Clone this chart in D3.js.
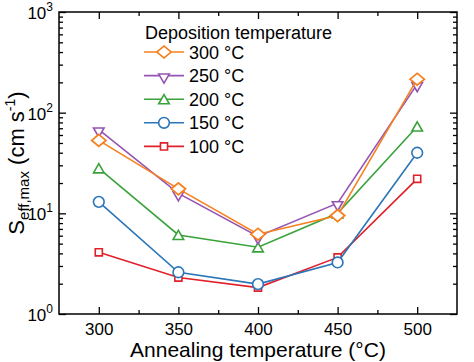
<!DOCTYPE html>
<html><head><meta charset="utf-8">
<script src="https://cdn.jsdelivr.net/npm/d3@7"></script>
<style>body{margin:0;background:#fff;} svg{display:block;font-family:Arial,"Liberation Sans",sans-serif;}</style>
</head><body>
<svg id="c" width="474" height="362"></svg>
<script>
const annealing = [300, 350, 400, 450, 500];
const seriesNames = ["300 °C", "250 °C", "200 °C", "150 °C", "100 °C"];
const colors = ["#f7801e", "#9553b3", "#3aa23a", "#2a76b8", "#e0202a"];
const symbolsKind = ["diamond", "triangleDown", "triangleUp", "circle", "square"];
const s300 = [53, 17.5, 6.2, 9.5, 215];
const s250 = [68, 15.8, 5.9, 12.6, 192];
const s200 = [28, 6.1, 4.6, 10, 73];
const s150 = [13, 2.6, 1.98, 3.25, 40];
const s100 = [4.1, 2.3, 1.83, 3.65, 22];
const seriesValues = [s300, s250, s200, s150, s100];
const xTicks = [300, 350, 400, 450, 500];
const yTicks = [1, 10, 100, 1000];

const svg = d3.select("#c");
const L = 59, R = 457, T = 12, B = 314;
const x = d3.scaleLinear().domain([275, 525]).range([L, R]);
const y = d3.scaleLog().domain([1, 1000]).range([B, T]);

const xMinor = d3.range(275, 526, 25).filter(v => !xTicks.includes(v) && v > 275 && v < 525);
const yMinor = [];
for (let d = 1; d < 1000; d *= 10) for (let k = 2; k <= 9; k++) yMinor.push(d * k);

const g = svg.append("g");
const axB = g.append("g").attr("transform", `translate(0,${B})`).call(d3.axisBottom(x).tickValues(xTicks).tickSize(-7).tickPadding(9).tickFormat(d3.format("d")));
const axT = g.append("g").attr("transform", `translate(0,${T})`).call(d3.axisTop(x).tickValues(xTicks).tickSize(-7).tickFormat(""));
const axBm = g.append("g").attr("transform", `translate(0,${B})`).call(d3.axisBottom(x).tickValues(xMinor).tickSize(-4).tickFormat(""));
const axTm = g.append("g").attr("transform", `translate(0,${T})`).call(d3.axisTop(x).tickValues(xMinor).tickSize(-4).tickFormat(""));
const axL = g.append("g").attr("transform", `translate(${L},0)`).call(d3.axisLeft(y).tickValues(yTicks).tickSize(-7).tickFormat(""));
const axR = g.append("g").attr("transform", `translate(${R},0)`).call(d3.axisRight(y).tickValues(yTicks).tickSize(-7).tickFormat(""));
const axLm = g.append("g").attr("transform", `translate(${L},0)`).call(d3.axisLeft(y).tickValues(yMinor).tickSize(-4).tickFormat(""));
const axRm = g.append("g").attr("transform", `translate(${R},0)`).call(d3.axisRight(y).tickValues(yMinor).tickSize(-4).tickFormat(""));
[axB, axT, axBm, axTm, axL, axR, axLm, axRm].forEach(a => {
  a.select(".domain").remove();
  a.selectAll("line").attr("stroke", "#000").attr("stroke-width", 1.3);
});
axB.selectAll("text").attr("font-size", 17).attr("fill", "#000").attr("font-family", "Arial,'Liberation Sans',sans-serif");

g.append("rect").attr("x", L).attr("y", T).attr("width", R - L).attr("height", B - T)
  .attr("fill", "none").attr("stroke", "#000").attr("stroke-width", 1.5);

yTicks.forEach(v => {
  const t = svg.append("text").attr("x", L - 6).attr("y", y(v) + 7).attr("text-anchor", "end")
    .attr("font-size", 17).attr("fill", "#000");
  t.append("tspan").text("10");
  t.append("tspan").attr("dy", -8).attr("font-size", 12).text(Math.round(Math.log10(v)));
});

svg.append("text").attr("x", (L + R) / 2 + 0).attr("y", 357).attr("text-anchor", "middle")
  .attr("font-size", 21).attr("fill", "#000").text("Annealing temperature (°C)");
const yl = svg.append("text").attr("transform", `translate(24,163) rotate(-90)`).attr("text-anchor", "middle")
  .attr("font-size", 22).attr("fill", "#000");
yl.append("tspan").text("S");
yl.append("tspan").attr("font-size", 15).attr("dy", 5).text("eff,max");
yl.append("tspan").attr("dy", -5).text(" (cm s");
yl.append("tspan").attr("font-size", 14).attr("dy", -9).text("-1");
yl.append("tspan").attr("dy", 9).text(")");

function marker(sel, kind, color) {
  let p;
  if (kind === "diamond") p = d3.symbol(d3.symbolDiamond2, 90);
  else if (kind === "square") p = d3.symbol(d3.symbolSquare2, 64);
  else if (kind === "circle") p = d3.symbol(d3.symbolCircle, 90);
  else p = d3.symbol(d3.symbolTriangle2, 80);
  const path = sel.append("path").attr("d", p()).attr("fill", "#fff").attr("stroke", color).attr("stroke-width", 1.6);
  if (kind === "diamond") path.attr("transform", "scale(1.2,1)");
  if (kind === "triangleDown") path.attr("transform", "rotate(180) translate(0,-1.5)");
  if (kind === "triangleUp") path.attr("transform", "translate(0,1.5)");
  return path;
}

const line = d3.line().x((d, i) => x(annealing[i])).y(d => y(d));
for (let si = seriesValues.length - 1; si >= 0; si--) {
  const vals = seriesValues[si];
  svg.append("path").datum(vals).attr("d", line).attr("fill", "none").attr("stroke", colors[si]).attr("stroke-width", 1.6);
  vals.forEach((v, i) => {
    const mg = svg.append("g").attr("transform", `translate(${x(annealing[i])},${y(v)})`);
    marker(mg, symbolsKind[si], colors[si]);
  });
}

svg.append("text").attr("x", 145).attr("y", 39).attr("font-size", 18).attr("fill", "#000").text("Deposition temperature");
seriesNames.forEach((n, i) => {
  const yy = 52 + i * 23.6;
  const lg = svg.append("g");
  lg.append("line").attr("x1", 144).attr("x2", 184).attr("y1", yy).attr("y2", yy).attr("stroke", colors[i]).attr("stroke-width", 1.6);
  const mg = lg.append("g").attr("transform", `translate(164,${yy})`);
  marker(mg, symbolsKind[i], colors[i]);
  lg.append("text").attr("x", 189).attr("y", yy + 6.5).attr("font-size", 18).attr("fill", "#000").text(n);
});
</script>
</body></html>
